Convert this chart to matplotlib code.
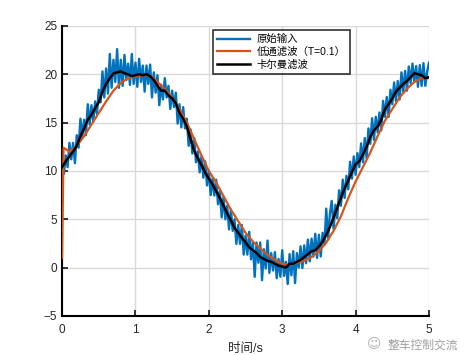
import numpy as np
import matplotlib
matplotlib.use("Agg")
import matplotlib.pyplot as plt

plt.rcParams['font.family'] = ['Liberation Sans', 'Noto Sans CJK SC', 'DejaVu Sans']

# raw noisy input, sampled every 0.025 s
t_raw = np.linspace(0, 5, 201)
raw = [10.7, 9.7, 11.6, 10.4, 12.9, 11.2, 12.9, 10.8, 13.7, 12.4,
       15.4, 13.5, 15.3, 13.7, 16.9, 14.8, 16.8, 15.1, 17.2, 15.9,
       18.4, 17.1, 20.3, 17.6, 20.6, 18.0, 22.1, 18.6, 21.5, 19.2,
       22.6, 18.6, 21.5, 18.8, 22.0, 19.4, 21.1, 18.9, 22.1, 19.0,
       21.2, 18.7, 21.6, 19.2, 20.9, 18.2, 20.9, 19.0, 21.0, 17.6,
       20.2, 18.1, 19.9, 16.8, 18.9, 17.4, 19.6, 17.6, 18.8, 16.4,
       18.3, 16.6, 18.1, 14.9, 16.9, 14.5, 16.6, 14.4, 15.4, 12.6,
       14.3, 11.8, 13.4, 10.9, 12.0, 9.85, 11.5, 9.3, 11.0, 8.5,
       10.0, 7.5, 9.2, 7.45, 9.1, 6.55, 7.9, 5.2, 7.3, 5.0,
       6.4, 3.95, 6.0, 3.8, 5.0, 2.45, 4.4, 2.45, 4.4, 1.35,
       3.3, 1.35, 3.7, 0.85, 2.6, -0.95, 2.6, 0.5, 2.6, -1.3,
       1.9, -0.1, 2.8, -0.55, 1.5, -0.3, 1.6, -1.1, 0.9, -0.95,
       1.8, -0.85, 0.6, -1.7, 1.4, -0.8, 1.7, -1.6, 1.5, 0.0,
       2.2, -0.05, 2.3, 0.45, 2.9, 0.65, 3.0, 1.15, 3.5, 1.0,
       3.4, 1.15, 3.6, 2.35, 6.1, 2.9, 5.6, 6.9, 4.0, 6.5,
       5.1, 8.0, 6.4, 9.1, 7.2, 9.5, 8.1, 10.95, 9.2, 11.5,
       9.6, 11.85, 10.4, 12.85, 10.9, 13.4, 11.3, 14.4, 12.8, 15.45,
       13.2, 15.6, 14.0, 16.05, 14.2, 17.25, 15.6, 17.65, 15.6, 18.4,
       16.9, 19.15, 17.2, 19.3, 17.4, 20.2, 18.2, 20.35, 18.3, 20.8,
       19.1, 21.1, 19.2, 20.85, 18.7, 20.95, 18.8, 21.15, 18.8, 20.25,
       21.2]

# low-pass filter output (T=0.1)
t_lp = [0, 0.02, 0.1, 0.2, 0.3, 0.4, 0.5, 0.6, 0.7, 0.8, 0.9,
        1.0, 1.1, 1.2, 1.3, 1.4, 1.5, 1.6, 1.7, 1.8, 1.9,
        2.0, 2.1, 2.2, 2.3, 2.4, 2.5, 2.6, 2.7, 2.8, 2.9,
        3.0, 3.1, 3.2, 3.3, 3.4, 3.5, 3.6, 3.7, 3.8, 3.9,
        4.0, 4.1, 4.2, 4.3, 4.4, 4.5, 4.6, 4.7, 4.8, 4.9, 5.0]
lowpass = [1.0, 12.4, 12.0, 12.6, 13.6, 14.8, 16.0, 17.2, 18.3, 19.1, 19.6,
           19.8, 19.9, 19.9, 19.2, 18.5, 17.6, 16.4, 15.0, 13.3, 11.6,
           10.0, 8.8, 7.4, 6.0, 4.8, 3.6, 2.7, 2.0, 1.3, 0.8,
           0.4, 0.3, 0.5, 0.7, 1.1, 1.7, 2.6, 3.8, 5.3, 7.2,
           8.9, 10.4, 11.9, 13.6, 15.2, 16.4, 17.6, 18.5, 19.2, 19.6, 19.6]

# Kalman filter output, every 0.05 s
t_kf = np.linspace(0, 5, 101)
kalman = [10.4, 11.0, 11.5, 12.0, 12.6, 13.6, 14.4, 15.3, 15.8, 16.5,
          17.1, 18.2, 19.0, 19.6, 20.1, 20.2, 20.3, 20.1, 20.0, 19.8,
          19.9, 20.0, 19.9, 20.0, 19.8, 19.4, 18.8, 18.3, 18.3, 17.8,
          17.5, 17.0, 16.0, 15.4, 14.6, 13.3, 12.1, 11.3, 10.6, 9.8,
          9.2, 8.6, 7.9, 7.2, 6.4, 5.6, 4.9, 4.1, 3.6, 3.1,
          2.6, 2.1, 1.8, 1.5, 1.1, 0.9, 0.7, 0.6, 0.4, 0.2,
          0.1, 0.0, 0.4, 0.4, 0.6, 0.8, 1.1, 1.4, 1.7, 1.8,
          2.2, 2.7, 3.4, 4.2, 5.2, 6.2, 7.2, 8.2, 9.0, 9.9,
          10.7, 11.0, 11.7, 12.5, 13.5, 14.2, 14.6, 15.3, 16.4, 16.9,
          17.5, 18.2, 18.6, 19.0, 19.3, 19.7, 20.1, 20.0, 19.9, 19.6,
          19.7]

fig = plt.figure(figsize=(4.74, 3.55), dpi=100)
ax = fig.add_axes([0.131, 0.110, 0.774, 0.817])

ax.plot(t_raw, raw, color="#0072BD", linewidth=1.7, label="原始输入", zorder=3)
ax.plot(t_lp, lowpass, color="#D95319", linewidth=1.6, label="低通滤波（T=0.1）", zorder=3)
ax.plot(t_kf, kalman, color="black", linewidth=1.8, label="卡尔曼滤波", zorder=3)

ax.set_xlim(0, 5)
ax.set_ylim(-5, 25)
ax.set_xticks([0, 1, 2, 3, 4, 5])
ax.set_yticks([-5, 0, 5, 10, 15, 20, 25])
ax.grid(True, color="#d9d9d9", linewidth=1)
ax.set_axisbelow(True)
ax.spines["top"].set_visible(False)
ax.spines["right"].set_visible(False)
ax.spines["left"].set_linewidth(1.5)
ax.spines["bottom"].set_linewidth(1.5)
ax.tick_params(direction="in", length=4, width=1.3, labelsize=8.5, colors="#262626")
ax.tick_params(axis="x", pad=6)
ax.set_xlabel("时间/s", fontsize=9, color="#262626", labelpad=5)

leg = ax.legend(loc="upper left", bbox_to_anchor=(0.411, 0.986), borderaxespad=0,
                fontsize=7.5, frameon=True, fancybox=False, handlelength=3.2,
                labelspacing=0.25, borderpad=0.4, handletextpad=0.6)
leg.get_frame().set_edgecolor("black")
leg.get_frame().set_linewidth(1.2)
leg.set_zorder(5)

# watermark
fig.text(0.775, 0.02, "☺", fontsize=10, color="#b0b0b0", family=["DejaVu Sans"])
fig.text(0.818, 0.017, "整车控制交流", fontsize=8.5, color="#a0a0a0")

fig.savefig("out.png", dpi=100)
